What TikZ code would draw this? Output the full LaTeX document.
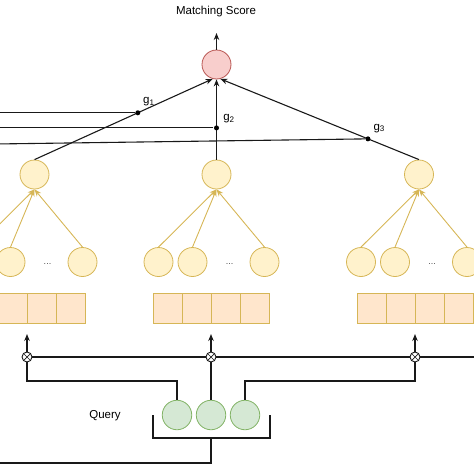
\documentclass[tikz,border=0pt]{standalone}
\usepackage{fontspec}
\setmainfont{Liberation Sans}
\usetikzlibrary{positioning,arrows.meta}

\definecolor{scorefill}{HTML}{F8CECC}
\definecolor{scoreline}{HTML}{B85450}
\definecolor{unitfill}{HTML}{FFF2CC}
\definecolor{unitline}{HTML}{D6B656}
\definecolor{cellfill}{HTML}{FFE6CC}
\definecolor{queryfill}{HTML}{D5E8D4}
\definecolor{queryline}{HTML}{82B366}

\begin{document}
\begin{tikzpicture}[
        x=1pt, y=-1pt,
        node distance=0pt,
        >={Stealth[length=7pt,width=5.5pt]},
        font=\fontsize{11.5}{13}\selectfont,
        wire/.style={draw=black!90, line width=1.1pt},
        feed/.style={draw=unitline, line width=0.9pt, ->},
        unit/.style={
            circle,
            draw=unitline,
            fill=unitfill,
            line width=0.8pt,
            minimum size=29pt,
            inner sep=0pt
        },
        score/.style={unit, draw=scoreline, fill=scorefill},
        query/.style={unit, draw=queryline, fill=queryfill},
        cell/.style={
            draw=unitline,
            fill=cellfill,
            line width=0.8pt,
            minimum width=29pt,
            minimum height=30pt,
            inner sep=0pt,
            outer sep=0pt
        },
        gate/.style={
            circle,
            draw=black!90,
            fill=white,
            line width=0.9pt,
            minimum size=10pt,
            inner sep=0pt,
            path picture={
                \draw[line width=0.7pt] (path picture bounding box.north west) -- (path picture bounding box.south east)
                    (path picture bounding box.north east) -- (path picture bounding box.south west);
            }
        },
        dot/.style={circle, fill=black, minimum size=5pt, inner sep=0pt},
        glabel/.style={label distance=0pt},
        more/.style={font=\small, text=black!70}
    ]
        \useasboundingbox (0,0) rectangle (474,474);

        % output
        \node (title) at (216,12) {Matching Score};
        \node[score] (score) at (216.5,64.5) {};
        \coordinate (out) at (216.5,33);

        % first level
        \node[unit] (p1) at (34.5,174.5) {};
        \node[unit] (p2) at (216.5,174.5) {};
        \node[unit] (p3) at (419,174.5) {};

        % leaves
        \node[unit, on grid, below left=87.5pt and 58pt of p1] (a1) {};
        \node[unit, on grid, below left=87.5pt and 24pt of p1] (a2) {};
        \node[more, on grid, below right=90pt and 13pt of p1] (a3) {...};
        \node[unit, on grid, below right=87.5pt and 48pt of p1] (a4) {};

        \node[unit, on grid, below left=87.5pt and 58pt of p2] (b1) {};
        \node[unit, on grid, below left=87.5pt and 24pt of p2] (b2) {};
        \node[more, on grid, below right=90pt and 13pt of p2] (b3) {...};
        \node[unit, on grid, below right=87.5pt and 48pt of p2] (b4) {};

        \node[unit, on grid, below left=87.5pt and 58pt of p3] (c1) {};
        \node[unit, on grid, below left=87.5pt and 24pt of p3] (c2) {};
        \node[more, on grid, below right=90pt and 13pt of p3] (c3) {...};
        \node[unit, on grid, below right=87.5pt and 48pt of p3] (c4) {};

        % input cells
        \node[cell] (x11) at (-16.5,308) {};
        \node[cell, right=of x11] (x12) {};
        \node[cell, right=of x12] (x13) {};
        \node[cell, right=of x13] (x14) {};

        \node[cell] (x21) at (167.5,308) {};
        \node[cell, right=of x21] (x22) {};
        \node[cell, right=of x22] (x23) {};
        \node[cell, right=of x23] (x24) {};

        \node[cell] (x31) at (371.5,308) {};
        \node[cell, right=of x31] (x32) {};
        \node[cell, right=of x32] (x33) {};
        \node[cell, right=of x33] (x34) {};

        % gating
        \node[gate] (m1) at (27,357) {};
        \node[gate] (m2) at (211,357) {};
        \node[gate] (m3) at (415,357) {};
        \coordinate (t1) at (27,334);
        \coordinate (t2) at (211,334);
        \coordinate (t3) at (415,334);
        \coordinate (rin) at (480,357);

        % query
        \node (qlabel) at (105,416) {Query};
        \node[query, minimum size=29.5pt] (q1) at (177,415) {};
        \node[query, minimum size=29.5pt, on grid, right=34pt of q1] (q2) {};
        \node[query, minimum size=29.5pt, on grid, right=34pt of q2] (q3) {};
        \coordinate (j1) at (177,381);
        \coordinate (j3) at (245,381);
        \coordinate (br1) at (153,415);
        \coordinate (br2) at (153,438);
        \coordinate (br3) at (270,438);
        \coordinate (br4) at (270,415);
        \coordinate (bmid) at (211,438);
        \coordinate (lout) at (-5,463);
        \coordinate (edge) at (-5,0);
        \coordinate (lin3) at (-5,144);

        % leaves to first level
        \draw[feed] (a1.north) -- (p1.south);
        \draw[feed] (a2.north) -- (p1.south);
        \draw[feed] (a4.north) -- (p1.south);
        \draw[feed] (b1.north) -- (p2.south);
        \draw[feed] (b2.north) -- (p2.south);
        \draw[feed] (b4.north) -- (p2.south);
        \draw[feed] (c1.north) -- (p3.south);
        \draw[feed] (c2.north) -- (p3.south);
        \draw[feed] (c4.north) -- (p3.south);

        % first level to score
        \draw[wire, ->] (p1.north) -- node[dot, pos=0.58, label={[glabel]60:g\textsubscript{1}}] (g1) {} (score.255);
        \draw[wire, ->] (p2.north) -- node[dot, pos=0.395, label={[glabel]15:g\textsubscript{2}}] (g2) {} (score.south);
        \draw[wire, ->] (p3.north) -- node[dot, pos=0.257, label={[glabel]55:g\textsubscript{3}}] (g3) {} (score.285);
        \draw[wire, ->] (score) -- (out);

        % gates from the left
        \draw[wire] (g1) -- (g1 -| edge);
        \draw[wire] (g2) -- (g2 -| edge);
        \draw[wire] (g3) -- (lin3);

        % gated inputs
        \draw[wire, ->] (m1) -- (t1);
        \draw[wire, ->] (m2) -- (t2);
        \draw[wire, ->] (m3) -- (t3);
        \draw[wire] (m1) -- (m2) -- (m3) -- (rin);
        \draw[wire] (m1) |- (j1) -- (q1);
        \draw[wire] (m2) -- (q2);
        \draw[wire] (m3) |- (j3) -- (q3);

        % query bracket
        \draw[wire] (br1) -- (br2) -- (br3) -- (br4);
        \draw[wire] (bmid) |- (lout);
    \end{tikzpicture}
\end{document}
